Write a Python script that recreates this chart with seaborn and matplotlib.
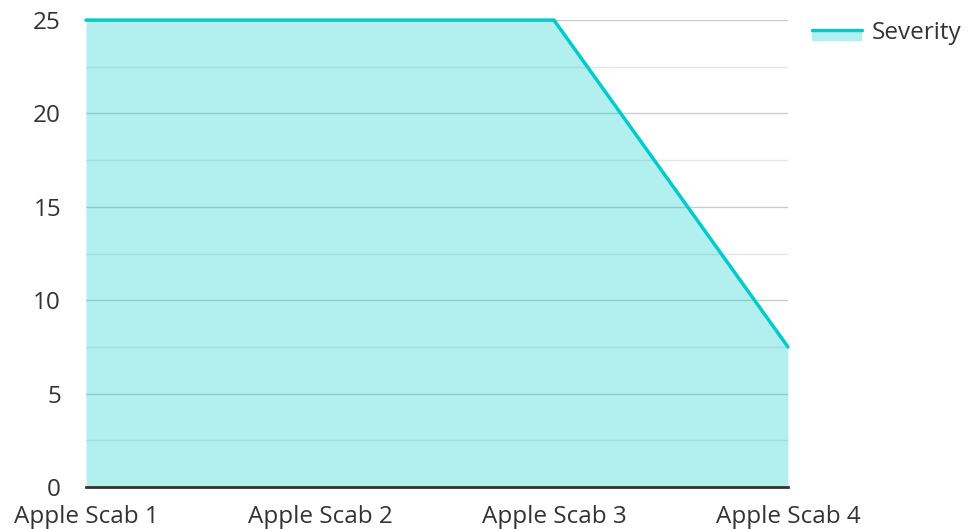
import matplotlib
matplotlib.use("Agg")
import matplotlib.pyplot as plt
from matplotlib.patches import Rectangle
from matplotlib.lines import Line2D
import seaborn as sns
import pandas as pd

# data
categories = ["Apple Scab 1", "Apple Scab 2", "Apple Scab 3", "Apple Scab 4"]
severity = [25, 25, 25, 7.5]
series_name = "Severity"

line_color = "#00cccc"


class AreaHandler:
    # legend key: pale block with the line sitting on its top edge
    def legend_artist(self, legend, orig_handle, fontsize, handlebox):
        x0, y0 = handlebox.xdescent, handlebox.ydescent
        w, h = handlebox.width, handlebox.height
        rect = Rectangle((x0, y0), w, h * 0.75, facecolor=line_color, alpha=0.3,
                         linewidth=0, transform=handlebox.get_transform())
        line = Line2D([x0, x0 + w], [y0 + h * 0.75, y0 + h * 0.75], color=line_color,
                      linewidth=2.5, transform=handlebox.get_transform())
        handlebox.add_artist(rect)
        handlebox.add_artist(line)
        return line


sns.set_style("white")
plt.rcParams["font.family"] = ["Open Sans", "DejaVu Sans"]

df = pd.DataFrame({"category": categories, "value": severity})
pos = list(range(len(categories)))

fig = plt.figure(figsize=(9.68, 5.29), dpi=100)
ax = fig.add_axes([0.0888, 0.0794, 0.7252, 0.8826])

ax.set_axisbelow(True)
ax.fill_between(pos, df["value"], 0, color=line_color, alpha=0.3, linewidth=0, zorder=2)
sns.lineplot(data=df, x="category", y="value", ax=ax, color=line_color,
             linewidth=2.5, zorder=3, sort=False)
for ln in ax.lines:
    ln.set_clip_on(False)

ax.set_xlim(0, len(categories) - 1)
ax.set_ylim(0, 25)
ax.set_yticks([0, 5, 10, 15, 20, 25])
ax.set_yticks([2.5, 7.5, 12.5, 17.5, 22.5], minor=True)
ax.set_xticks(pos)
ax.set_xticklabels(categories)
ax.grid(axis="y", which="major", color="#cccccc", linewidth=1, zorder=0)
ax.grid(axis="y", which="minor", color="#e6e6e6", linewidth=1, zorder=0)
ax.grid(axis="x", visible=False)

for side in ["left", "right", "top"]:
    ax.spines[side].set_visible(False)
ax.spines["bottom"].set_color("#333333")
ax.spines["bottom"].set_linewidth(2)
ax.spines["bottom"].set_zorder(4)

ax.tick_params(axis="both", which="both", length=0, labelsize=17.5, colors="#333333")
ax.tick_params(axis="y", pad=18)
ax.tick_params(axis="x", pad=13)
ax.set_xlabel("")
ax.set_ylabel("")

ax.legend([object()], [series_name], handler_map={object: AreaHandler()},
          loc="upper left", bbox_to_anchor=(1.003, 1.044), frameon=False,
          fontsize=17.5, handlelength=2.05, handleheight=0.55, handletextpad=0.42,
          labelcolor="#333333")

fig.savefig("out.png", dpi=100)
